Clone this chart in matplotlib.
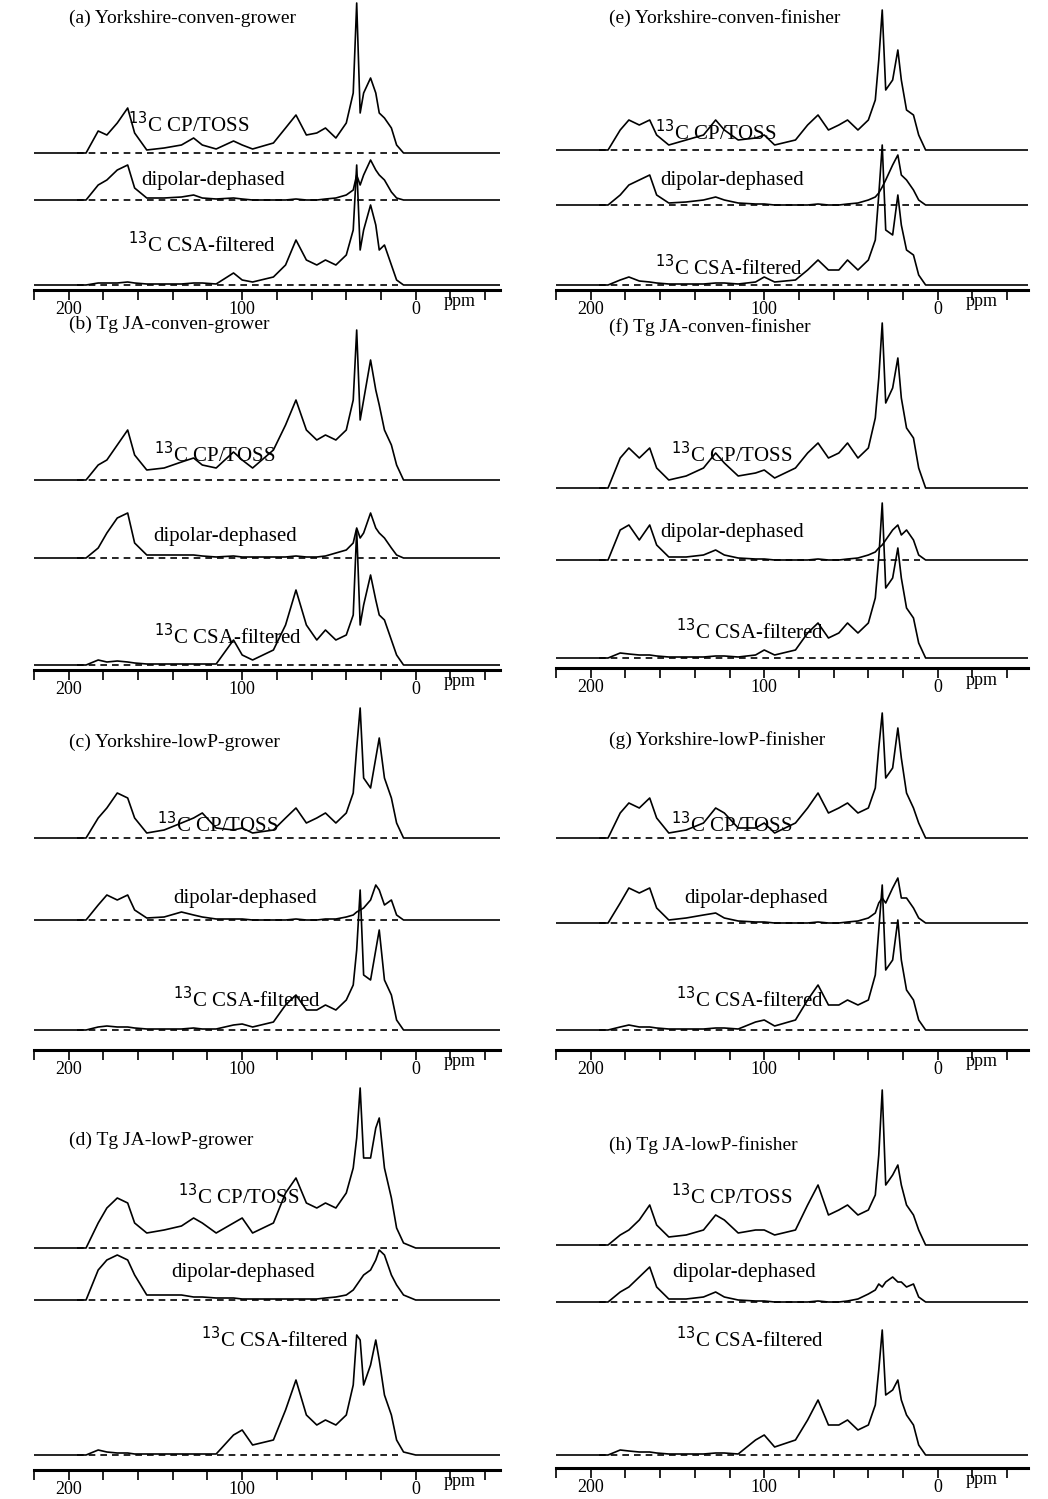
import matplotlib
matplotlib.use("Agg")
import matplotlib.pyplot as plt

plt.rcParams['font.family'] = ['Liberation Serif', 'DejaVu Serif']

# shared chemical-shift grid (ppm) and trace heights (pixel units)
ppm = [240, 190, 183, 178, 172, 166, 162, 155, 145, 135, 128, 123, 115, 105, 100, 94, 82, 75, 69, 63,
       57, 52, 46, 40, 36, 34, 32, 30, 26, 23, 21, 18, 14, 11, 7, 0, -60]

a_cp = [0,0,22,18,30,45,20,3,5,8,15,8,4,12,8,4,10,25,38,18,20,25,15,30,60,150,40,60,75,60,40,35,25,8,0,0,0]
a_dd = [0,0,15,20,30,35,12,2,2,3,5,2,1,2,1,0,0,0,1,0,0,1,2,5,10,25,15,25,40,30,25,20,8,2,0,0,0]
a_csa = [0,0,2,2,2,3,2,1,1,1,2,2,1,12,5,3,8,20,45,25,20,25,20,30,55,120,35,55,80,60,35,40,20,5,0,0,0]
b_cp = [0,0,15,20,35,50,25,10,12,18,22,15,12,28,20,12,30,55,80,50,40,45,40,50,80,150,60,80,120,90,75,50,35,15,0,0,0]
b_dd = [0,0,10,25,40,45,15,3,3,3,3,2,1,2,1,1,1,1,2,1,1,2,5,8,15,30,20,25,45,30,25,20,10,3,0,0,0]
b_csa = [0,0,5,3,4,3,2,1,1,1,1,1,1,25,10,5,15,40,75,40,25,35,25,30,50,135,40,60,90,65,50,45,25,10,0,0,0]
c_cp = [0,0,20,30,45,40,20,5,8,15,20,25,10,8,10,5,8,20,30,15,20,25,15,25,45,90,130,60,50,80,100,60,40,15,0,0,0]
c_dd = [0,0,15,25,20,25,10,2,3,8,5,3,1,1,1,0,0,0,1,0,0,1,1,3,5,8,10,12,20,35,30,15,20,5,0,0,0]
c_csa = [0,0,3,4,3,3,2,1,1,1,2,1,1,5,6,3,8,25,35,20,20,25,20,30,45,80,140,55,50,80,100,50,35,10,0,0,0]
d_cp = [0,0,25,40,50,45,25,15,18,22,30,25,15,25,30,15,25,55,70,45,40,45,40,55,80,110,160,90,90,120,130,80,50,20,5,0,0]
d_dd = [0,0,30,40,45,40,25,5,5,5,3,3,2,2,1,1,1,1,1,1,1,2,3,5,10,15,20,25,30,40,50,45,25,15,5,0,0]
d_csa = [0,0,5,3,2,2,1,1,1,1,1,1,1,20,25,10,15,45,75,40,30,35,30,40,70,120,115,70,90,115,95,60,40,15,3,0,0]
e_cp = [0,0,20,30,25,30,15,5,10,15,30,20,10,12,15,5,10,25,35,20,25,30,20,30,50,90,140,60,70,100,70,40,35,15,0,0,0]
e_dd = [0,0,10,20,25,30,10,2,3,5,8,5,2,1,1,0,0,0,1,0,0,1,2,5,8,12,18,25,40,50,30,25,15,5,0,0,0]
e_csa = [0,0,5,8,4,3,2,1,1,1,2,2,1,3,8,3,5,15,25,15,15,25,15,25,45,90,140,55,50,90,60,35,30,10,0,0,0]
f_cp = [0,0,30,40,30,40,20,8,12,20,35,25,12,15,18,10,20,35,45,30,35,45,30,40,70,110,165,85,100,130,90,60,50,20,0,0,0]
f_dd = [0,0,30,35,20,35,15,3,3,5,10,5,2,1,1,0,0,0,1,0,0,1,2,5,8,12,15,20,30,35,25,30,20,5,0,0,0]
f_csa = [0,0,5,4,3,3,2,1,1,1,2,2,1,3,8,3,8,25,35,20,25,35,25,35,60,100,155,70,80,110,80,50,40,15,0,0,0]
g_cp = [0,0,25,35,30,40,20,5,8,15,30,25,10,10,15,5,15,30,45,25,30,35,25,30,50,90,125,60,70,110,80,45,30,15,0,0,0]
g_dd = [0,0,20,35,30,35,15,3,5,8,10,5,2,1,1,0,0,0,1,0,0,1,2,5,10,20,25,20,35,45,25,25,15,5,0,0,0]
g_csa = [0,0,3,5,3,3,2,1,1,1,2,2,1,8,10,4,10,30,45,25,25,30,25,30,55,100,145,60,70,110,70,40,30,10,0,0,0]
h_cp = [0,0,10,15,25,40,20,8,10,15,30,25,12,15,15,10,15,40,60,30,35,40,30,35,50,90,155,60,70,80,60,40,30,15,0,0,0]
h_dd = [0,0,10,15,25,35,15,3,3,5,10,5,2,1,1,0,0,0,1,0,0,1,3,8,12,18,15,20,25,20,20,15,18,5,0,0,0]
h_csa = [0,0,5,4,3,3,2,1,1,1,2,2,1,15,20,8,15,35,55,30,30,35,25,30,50,85,125,60,65,75,55,40,30,10,0,0,0]

titles = ["(a) Yorkshire-conven-grower", "(b) Tg JA-conven-grower", "(c) Yorkshire-lowP-grower",
          "(d) Tg JA-lowP-grower", "(e) Yorkshire-conven-finisher", "(f) Tg JA-conven-finisher",
          "(g) Yorkshire-lowP-finisher", "(h) Tg JA-lowP-finisher"]
trace_labels = ["$^{13}$C CP/TOSS", "dipolar-dephased", "$^{13}$C CSA-filtered"]

# layout in figure pixels: column, axis y, baselines, title y, label y, label x (ppm)
panels = [
    (0, 290, [153, 200, 285], 18, [125, 180, 245], [166, 158, 166], [a_cp, a_dd, a_csa]),
    (0, 670, [480, 558, 665], 324, [455, 537, 637], [151, 151, 151], [b_cp, b_dd, b_csa]),
    (0, 1050, [838, 920, 1030], 742, [825, 898, 1000], [149, 140, 140], [c_cp, c_dd, c_csa]),
    (0, 1470, [1248, 1300, 1455], 1140, [1197, 1273, 1340], [137, 141, 124], [d_cp, d_dd, d_csa]),
    (1, 290, [150, 205, 285], 18, [133, 180, 268], [163, 160, 163], [e_cp, e_dd, e_csa]),
    (1, 668, [488, 560, 658], 327, [455, 532, 632], [154, 160, 151], [f_cp, f_dd, f_csa]),
    (1, 1050, [838, 923, 1030], 740, [825, 898, 1000], [154, 146, 151], [g_cp, g_dd, g_csa]),
    (1, 1468, [1245, 1302, 1455], 1145, [1197, 1273, 1340], [154, 153, 151], [h_cp, h_dd, h_csa]),
]
# column x geometry: axis left px, right px, px of 0 ppm, px per ppm, title left px
cols = [(34, 500, 413, 1.79, 55), (556, 1028, 937, 1.75, 605)]

W, H = 1048, 1499
fig = plt.figure(figsize=(W / 100, H / 100), dpi=100)

for i, (col, axy, bases, ty, ly, lx, traces) in enumerate(panels):
    x0, x1, zero, scale, tx = cols[col]
    top = axy - 400
    ax = fig.add_axes([x0 / W, 1 - axy / H, (x1 - x0) / W, 400 / H])
    ax.patch.set_alpha(0)
    ax.set_xlim((zero - x0) / scale, (zero - x1) / scale)
    ax.set_ylim(axy, top)
    for s in ['top', 'left', 'right']:
        ax.spines[s].set_visible(False)
    ax.spines['bottom'].set_linewidth(2.2)
    ax.set_yticks([])
    ax.set_xticks([200, 100, 0])
    ax.set_xticks([220, 180, 160, 140, 120, 80, 60, 40, 20, -20, -40], minor=True)
    ax.tick_params(axis='x', labelsize=13, length=7, width=1.2, pad=1)
    ax.tick_params(axis='x', which='minor', length=7, width=1.2)
    for tr, b, yy, xx, lab in zip(traces, bases, ly, lx, trace_labels):
        ax.plot(ppm, [b - v for v in tr], color='black', lw=1.2)
        ax.plot([195, 10], [b, b], color='black', lw=1.2, ls=(0, (4, 3)))
        ax.text(xx, yy, lab, fontsize=15, va='center', ha='left')
    ax.text((zero - tx) / scale, ty, titles[i], fontsize=14, va='center', ha='left', clip_on=False)
    ax.text(-16, axy + 12, "ppm", fontsize=13, va='center', ha='left', clip_on=False)

fig.savefig("out.png", dpi=100)
